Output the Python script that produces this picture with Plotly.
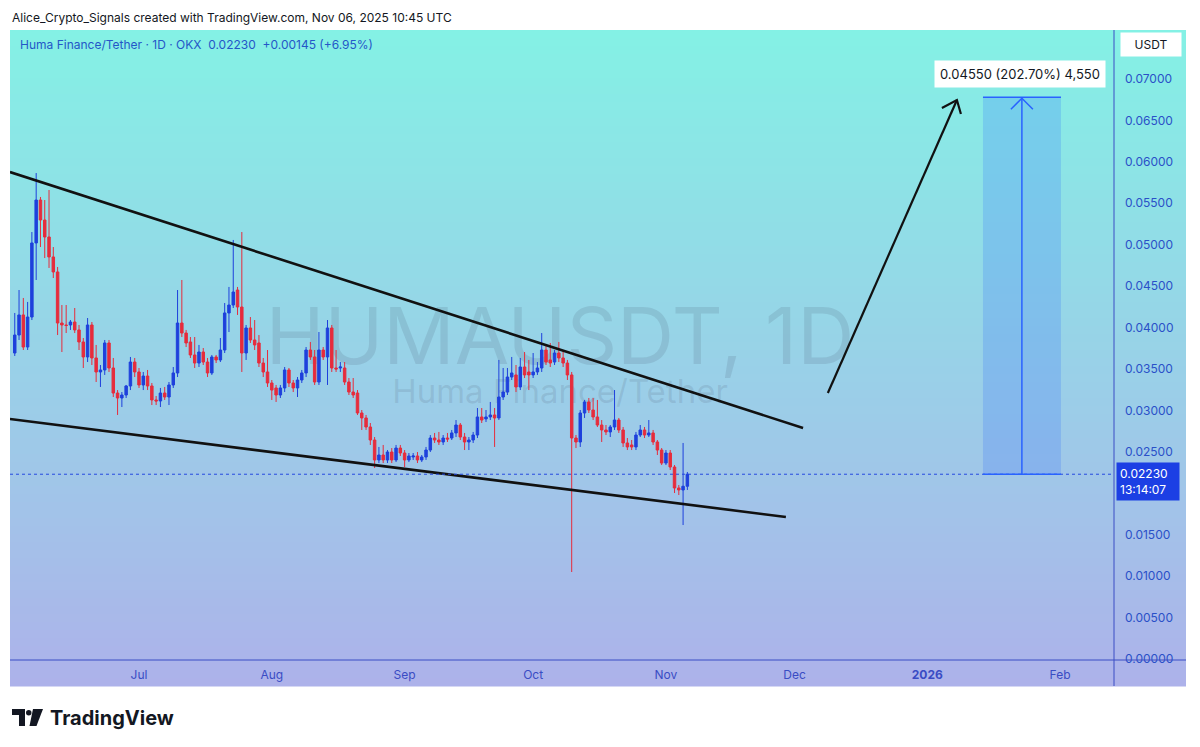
import plotly.graph_objects as go
import pandas as pd

# ---------------- data ----------------
dates = pd.date_range("2025-06-02", periods=158, freq="D")

open_prices = [
    0.03693, 0.03910, 0.04152, 0.03765, 0.04127, 0.05021, 0.05539, 0.05298, 0.05093, 0.04852,
    0.04671, 0.04055, 0.04031, 0.04031, 0.04067, 0.03971, 0.03826, 0.03645, 0.04031, 0.03633,
    0.03464, 0.03488, 0.03814, 0.03512, 0.03210, 0.03150, 0.03186, 0.03295, 0.03584, 0.03464,
    0.03307, 0.03415, 0.03295, 0.03126, 0.03114, 0.03210, 0.03162, 0.03307, 0.03452, 0.04055,
    0.03934, 0.03826, 0.03669, 0.03572, 0.03705, 0.03584, 0.03452, 0.03645, 0.03609, 0.03729,
    0.04176, 0.04272, 0.04453, 0.04248, 0.03693, 0.03995, 0.03850, 0.03814, 0.03572, 0.03464,
    0.03331, 0.03271, 0.03186, 0.03271, 0.03488, 0.03331, 0.03271, 0.03367, 0.03452, 0.03729,
    0.03645, 0.03343, 0.03729, 0.03645, 0.03995, 0.03512, 0.03512, 0.03512, 0.03343, 0.03222,
    0.03210, 0.02969, 0.02909, 0.02800, 0.02643, 0.02402, 0.02462, 0.02402, 0.02498, 0.02402,
    0.02546, 0.02486, 0.02402, 0.02438, 0.02450, 0.02402, 0.02438, 0.02522, 0.02667, 0.02643,
    0.02619, 0.02667, 0.02667, 0.02728, 0.02824, 0.02679, 0.02619, 0.02643, 0.02703, 0.02921,
    0.02897, 0.02921, 0.02945, 0.02909, 0.03162, 0.03222, 0.03403, 0.03428, 0.03283, 0.03524,
    0.03464, 0.03428, 0.03464, 0.03512, 0.03729, 0.03609, 0.03584, 0.03693, 0.03633, 0.03572,
    0.03428, 0.02667, 0.02619, 0.02969, 0.03102, 0.03005, 0.02921, 0.02824, 0.02764, 0.02740,
    0.02800, 0.02884, 0.02764, 0.02607, 0.02583, 0.02559, 0.02703, 0.02764, 0.02703, 0.02728,
    0.02619, 0.02522, 0.02365, 0.02486, 0.02317, 0.02064, 0.02040, 0.02085,
]
high_prices = [
    0.04176, 0.04453, 0.04357, 0.04309, 0.05153, 0.05865, 0.05576, 0.05539, 0.05660, 0.04972,
    0.04731, 0.04272, 0.04272, 0.04091, 0.04236, 0.04031, 0.03874, 0.04115, 0.04067, 0.03790,
    0.03548, 0.03850, 0.03850, 0.03633, 0.03246, 0.03222, 0.03307, 0.03645, 0.03633, 0.03512,
    0.03464, 0.03488, 0.03331, 0.03174, 0.03271, 0.03283, 0.03343, 0.03524, 0.04453, 0.04574,
    0.03971, 0.03886, 0.03886, 0.03790, 0.03753, 0.03633, 0.03669, 0.03669, 0.03874, 0.04296,
    0.04490, 0.05057, 0.04490, 0.05153, 0.04031, 0.04127, 0.04091, 0.03910, 0.03633, 0.03729,
    0.03367, 0.03307, 0.03307, 0.03524, 0.03512, 0.03367, 0.03403, 0.03488, 0.03765, 0.03826,
    0.03729, 0.03946, 0.03765, 0.04091, 0.04031, 0.03729, 0.03584, 0.03584, 0.03391, 0.03391,
    0.03246, 0.03005, 0.02945, 0.02848, 0.02679, 0.02559, 0.02583, 0.02522, 0.02546, 0.02583,
    0.02583, 0.02522, 0.02486, 0.02486, 0.02498, 0.02462, 0.02559, 0.02703, 0.02728, 0.02740,
    0.02703, 0.02728, 0.02764, 0.02884, 0.02848, 0.02728, 0.02679, 0.02740, 0.03029, 0.03029,
    0.03005, 0.03102, 0.03029, 0.03609, 0.03512, 0.03512, 0.03645, 0.03548, 0.03633, 0.03705,
    0.03609, 0.03693, 0.03584, 0.03934, 0.03790, 0.03814, 0.03729, 0.03826, 0.03729, 0.03609,
    0.03464, 0.02703, 0.03005, 0.03126, 0.03150, 0.03150, 0.03126, 0.02884, 0.02824, 0.02824,
    0.03246, 0.02909, 0.02800, 0.02667, 0.02643, 0.02740, 0.02824, 0.02800, 0.02884, 0.02764,
    0.02643, 0.02546, 0.02522, 0.02522, 0.02341, 0.02100, 0.02607, 0.02257,
]
low_prices = [
    0.03657, 0.03850, 0.03729, 0.03729, 0.04091, 0.04574, 0.04972, 0.04839, 0.04719, 0.04598,
    0.03910, 0.03705, 0.03934, 0.03971, 0.03934, 0.03729, 0.03512, 0.03584, 0.03548, 0.03343,
    0.03283, 0.03428, 0.03464, 0.03162, 0.02945, 0.03041, 0.03150, 0.03246, 0.03403, 0.03271,
    0.03246, 0.03246, 0.03065, 0.03065, 0.03041, 0.03126, 0.03065, 0.03271, 0.03403, 0.03886,
    0.03765, 0.03633, 0.03512, 0.03524, 0.03548, 0.03403, 0.03428, 0.03572, 0.03584, 0.03693,
    0.03946, 0.04236, 0.04152, 0.03464, 0.03609, 0.03814, 0.03729, 0.03524, 0.03403, 0.03283,
    0.03126, 0.03102, 0.03150, 0.03222, 0.03283, 0.03222, 0.03162, 0.03331, 0.03403, 0.03609,
    0.03307, 0.03307, 0.03609, 0.03307, 0.03464, 0.03464, 0.03464, 0.03307, 0.03186, 0.03150,
    0.02945, 0.02764, 0.02764, 0.02583, 0.02305, 0.02365, 0.02365, 0.02365, 0.02365, 0.02377,
    0.02450, 0.02317, 0.02377, 0.02402, 0.02365, 0.02377, 0.02402, 0.02498, 0.02607, 0.02583,
    0.02583, 0.02619, 0.02643, 0.02679, 0.02643, 0.02522, 0.02522, 0.02607, 0.02667, 0.02848,
    0.02860, 0.02884, 0.02559, 0.02884, 0.03126, 0.03186, 0.03367, 0.03222, 0.03246, 0.03391,
    0.03246, 0.03391, 0.03428, 0.03464, 0.03548, 0.03524, 0.03548, 0.03584, 0.03524, 0.03367,
    0.01050, 0.02546, 0.02559, 0.02909, 0.02969, 0.02884, 0.02800, 0.02619, 0.02703, 0.02679,
    0.02764, 0.02728, 0.02559, 0.02522, 0.02522, 0.02522, 0.02679, 0.02667, 0.02679, 0.02583,
    0.02462, 0.02341, 0.02341, 0.02281, 0.02003, 0.01979, 0.01617, 0.02040,
]
close_prices = [
    0.03910, 0.04152, 0.03765, 0.04127, 0.05021, 0.05539, 0.05298, 0.05093, 0.04852, 0.04671,
    0.04055, 0.04031, 0.04025, 0.04067, 0.03971, 0.03826, 0.03645, 0.04031, 0.03633, 0.03464,
    0.03488, 0.03814, 0.03512, 0.03210, 0.03150, 0.03186, 0.03295, 0.03584, 0.03464, 0.03307,
    0.03415, 0.03295, 0.03126, 0.03114, 0.03210, 0.03162, 0.03307, 0.03452, 0.04055, 0.03934,
    0.03814, 0.03669, 0.03572, 0.03705, 0.03584, 0.03452, 0.03645, 0.03609, 0.03729, 0.04176,
    0.04272, 0.04429, 0.04248, 0.03693, 0.03995, 0.03850, 0.03790, 0.03572, 0.03464, 0.03331,
    0.03246, 0.03186, 0.03271, 0.03488, 0.03331, 0.03271, 0.03367, 0.03452, 0.03729, 0.03645,
    0.03343, 0.03729, 0.03645, 0.03995, 0.03512, 0.03500, 0.03524, 0.03343, 0.03222, 0.03186,
    0.02969, 0.02909, 0.02800, 0.02643, 0.02402, 0.02462, 0.02402, 0.02498, 0.02402, 0.02546,
    0.02486, 0.02402, 0.02450, 0.02450, 0.02402, 0.02438, 0.02522, 0.02667, 0.02643, 0.02619,
    0.02667, 0.02655, 0.02728, 0.02824, 0.02679, 0.02619, 0.02643, 0.02703, 0.02921, 0.02884,
    0.02921, 0.02945, 0.02909, 0.03162, 0.03222, 0.03403, 0.03452, 0.03283, 0.03524, 0.03428,
    0.03428, 0.03464, 0.03512, 0.03729, 0.03584, 0.03572, 0.03693, 0.03633, 0.03572, 0.03428,
    0.02667, 0.02619, 0.02969, 0.03102, 0.03005, 0.02921, 0.02824, 0.02764, 0.02740, 0.02800,
    0.02884, 0.02764, 0.02607, 0.02559, 0.02559, 0.02703, 0.02764, 0.02703, 0.02728, 0.02619,
    0.02522, 0.02365, 0.02486, 0.02317, 0.02064, 0.02040, 0.02085, 0.02230,
]

# 0.02000 sits behind the live price label in the reference, so it is not listed
price_ticks = [0.0, 0.005, 0.01, 0.015, 0.025, 0.03, 0.035, 0.04, 0.045,
               0.05, 0.055, 0.06, 0.065, 0.07]
month_ticks = ["2025-07-01", "2025-08-01", "2025-09-01", "2025-10-01", "2025-11-01",
               "2025-12-01", "2026-01-01", "2026-02-01"]
month_labels = ["Jul", "Aug", "Sep", "Oct", "Nov", "Dec", "<b>2026</b>", "Feb"]

upper_trend_dates = ["2025-05-31 21:00", "2025-12-03 00:00"]
upper_trend_prices = [0.05877, 0.02788]
lower_trend_dates = ["2025-05-31 21:00", "2025-11-29 00:00"]
lower_trend_prices = [0.02896, 0.01714]
forecast_arrow_dates = ["2025-12-08 19:00", "2026-01-07 22:00"]
forecast_arrow_prices = [0.03210, 0.06746]
range_dates = ["2026-01-14 00:00", "2026-02-01 05:00"]
range_mid_date = "2026-01-23 02:00"
range_prices = [0.02230, 0.06780]
last_price = 0.02230

header_text = "Alice_Crypto_Signals created with TradingView.com, Nov 06, 2025 10:45 UTC"
legend_text = "Huma Finance/Tether · 1D · OKX  0.02230  +0.00145 (+6.95%)"
range_label = "0.04550 (202.70%) 4,550"

# ---------------- style ----------------
UP = "#1e40dc"
DOWN = "#e62c3c"
AXIS_BLUE = "#3a4cc4"
FONT = "Inter, Roboto, 'Noto Sans', sans-serif"
L, R, T, B = 10, 1114, 30, 660
W, H = R - L, B - T


def px(x):
    return (x - L) / W


def py(y):
    return (B - y) / H


def ppath(pts):
    return "M" + " L".join(f"{px(x):.5f},{py(y):.5f}" for x, y in pts) + " Z"


fig = go.Figure()

fig.add_trace(go.Candlestick(
    x=dates, open=open_prices, high=high_prices, low=low_prices, close=close_prices,
    increasing=dict(line=dict(color=UP, width=1), fillcolor=UP),
    decreasing=dict(line=dict(color=DOWN, width=1), fillcolor=DOWN),
    whiskerwidth=0, showlegend=False, hoverinfo="skip",
))

for d, p in ((upper_trend_dates, upper_trend_prices), (lower_trend_dates, lower_trend_prices)):
    fig.add_trace(go.Scatter(x=d, y=p, mode="lines", line=dict(color="#111111", width=2.6),
                             showlegend=False, hoverinfo="skip"))

fig.add_trace(go.Scatter(x=forecast_arrow_dates, y=forecast_arrow_prices, mode="lines",
                         line=dict(color="#111111", width=2.2), showlegend=False, hoverinfo="skip"))

shapes = []
# gradient background
top_c = (132, 241, 229)
bot_c = (173, 178, 234)
y_start, y_end = 30, 686
n = 82
step = (y_end - y_start) / n
for k in range(n):
    t = (k + 0.5) / n
    c = tuple(int(round(top_c[i] + (bot_c[i] - top_c[i]) * t)) for i in range(3))
    y0 = y_start + k * step
    shapes.append(dict(type="rect", xref="paper", yref="paper", x0=px(10), x1=px(1186),
                       y0=py(y0 + step + 0.6), y1=py(y0), fillcolor=f"rgb{c}",
                       line=dict(width=0), layer="below"))

# watermark
shapes.append(dict(type="rect", xref="paper", yref="paper", x0=px(200), x1=px(920),
                   y0=py(375), y1=py(290), line=dict(width=0), fillcolor="rgba(0,0,0,0)",
                   layer="below",
                   label=dict(text="HUMAUSDT, 1D", textposition="middle center",
                              font=dict(size=79, color="rgba(80,95,120,0.17)", family=FONT))))
shapes.append(dict(type="rect", xref="paper", yref="paper", x0=px(300), x1=px(820),
                   y0=py(412), y1=py(368), line=dict(width=0), fillcolor="rgba(0,0,0,0)",
                   layer="below",
                   label=dict(text="Huma Finance/Tether", textposition="middle center",
                              font=dict(size=33, color="rgba(80,95,120,0.17)", family=FONT))))

# axis separator lines
shapes.append(dict(type="line", xref="paper", yref="paper", x0=px(1114), x1=px(1114),
                   y0=py(686), y1=py(30), line=dict(color=AXIS_BLUE, width=1)))
shapes.append(dict(type="line", xref="paper", yref="paper", x0=px(10), x1=px(1186),
                   y0=py(660), y1=py(660), line=dict(color=AXIS_BLUE, width=1)))

# last price dotted line
shapes.append(dict(type="line", xref="paper", yref="y", x0=0, x1=1, y0=last_price, y1=last_price,
                   line=dict(color="#2448e0", width=1, dash="dot")))

# price range box
shapes.append(dict(type="rect", xref="x", yref="y", x0=range_dates[0], x1=range_dates[1],
                   y0=range_prices[0], y1=range_prices[1], fillcolor="rgba(41,98,255,0.20)",
                   line=dict(width=0)))
for pv in range_prices:
    shapes.append(dict(type="line", xref="x", yref="y", x0=range_dates[0], x1=range_dates[1],
                       y0=pv, y1=pv, line=dict(color="#2962ff", width=1.5)))
shapes.append(dict(type="line", xref="x", yref="y", x0=range_mid_date, x1=range_mid_date,
                   y0=range_prices[0], y1=range_prices[1], line=dict(color="#2962ff", width=1.5)))
shapes.append(dict(type="path", xref="x", yref="y", xsizemode="pixel", ysizemode="pixel",
                   xanchor=range_mid_date, yanchor=range_prices[1],
                   path="M-11,-12 L0,-1 L11,-12", line=dict(color="#2962ff", width=1.5)))
# forecast arrow head
shapes.append(dict(type="path", xref="x", yref="y", xsizemode="pixel", ysizemode="pixel",
                   xanchor=forecast_arrow_dates[1], yanchor=forecast_arrow_prices[1],
                   path="M-15,-8 L0,0 L4,-14", line=dict(color="#111111", width=2.2)))

# TradingView logo icon
shapes.append(dict(type="path", xref="paper", yref="paper",
                   path=ppath([(12, 709), (25, 709), (25, 726), (19, 726), (19, 715), (12, 715)]),
                   fillcolor="#131722", line=dict(width=0)))
shapes.append(dict(type="circle", xref="paper", yref="paper", x0=px(26), x1=px(31.5),
                   y0=py(715.5), y1=py(710), fillcolor="#131722", line=dict(width=0)))
shapes.append(dict(type="path", xref="paper", yref="paper",
                   path=ppath([(33, 709), (43, 709), (36.5, 726), (29.5, 726)]),
                   fillcolor="#131722", line=dict(width=0)))

annotations = [
    dict(xref="paper", yref="paper", x=px(10), y=py(17), text=header_text, showarrow=False,
         xanchor="left", yanchor="middle", font=dict(size=12, color="#131722", family=FONT)),
    dict(xref="paper", yref="paper", x=px(18), y=py(44), text=legend_text, showarrow=False,
         xanchor="left", yanchor="middle", font=dict(size=12, color="#2457c8", family=FONT)),
    dict(xref="paper", yref="paper", x=px(1151), y=py(44.5), text="USDT", showarrow=False,
         xanchor="center", yanchor="middle", bgcolor="white", width=52, borderpad=4,
         font=dict(size=12, color="#131722", family=FONT)),
    dict(xref="paper", yref="paper", x=px(1148), y=py(481), text="0.02230<br>13:14:07",
         showarrow=False, xanchor="center", yanchor="middle", bgcolor="#1c3fe4", width=56,
         borderpad=3, align="left", font=dict(size=12, color="white", family=FONT)),
    dict(xref="paper", yref="paper", x=px(1020), y=py(74), text=range_label, showarrow=False,
         xanchor="center", yanchor="middle", bgcolor="white", borderpad=5,
         font=dict(size=13, color="#131722", family=FONT)),
    dict(xref="paper", yref="paper", x=px(48), y=py(718), text="<b>TradingView</b>",
         showarrow=False, xanchor="left", yanchor="middle",
         font=dict(size=20, color="#131722", family=FONT)),
]

fig.update_layout(
    width=1200, height=747,
    margin=dict(l=L, r=1200 - R, t=T, b=747 - B),
    paper_bgcolor="white", plot_bgcolor="rgba(0,0,0,0)",
    showlegend=False, hovermode=False, dragmode=False, boxgap=0.18,
    font=dict(family=FONT, size=12),
    xaxis=dict(type="date", range=["2025-05-31 21:22", "2026-02-13 14:00"],
               rangeslider=dict(visible=False), showgrid=False, zeroline=False,
               showline=False, ticks="", tickvals=month_ticks, ticktext=month_labels,
               tickfont=dict(size=12, color=AXIS_BLUE, family=FONT), ticklabelstandoff=6),
    yaxis=dict(side="right", range=[-0.00012, 0.07591], showgrid=False, zeroline=False,
               showline=False, ticks="", tickvals=price_ticks, tickformat=".5f",
               tickfont=dict(size=12, color="#2a50c8", family=FONT), ticklabelstandoff=10),
    shapes=shapes, annotations=annotations,
)

fig.write_html("out.html", config={"displayModeBar": False},
               post_script="document.body.style.margin='0';document.body.style.overflow='hidden';")
